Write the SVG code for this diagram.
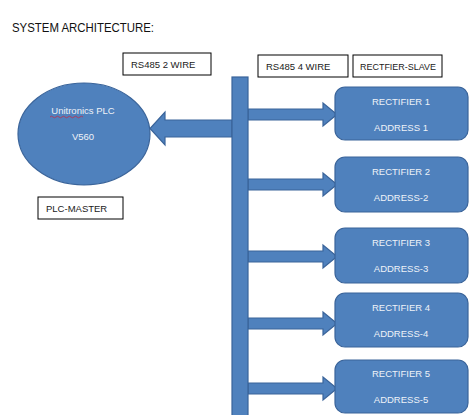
<svg xmlns="http://www.w3.org/2000/svg" width="474" height="415" viewBox="0 0 474 415">
<style>
.shape{fill:#4f81bd;stroke:#3a649a;stroke-width:1.2}
.lbl{fill:#fff;stroke:#000;stroke-width:1}
.t{font-family:"Liberation Sans",Arial,sans-serif;font-size:9.5px;fill:#1a1a1a}
.w{font-family:"Liberation Sans",Arial,sans-serif;font-size:9.5px;fill:#eef2f8;text-anchor:middle}
</style>
<rect width="474" height="415" fill="#fff"/>
<text x="12" y="32" font-family="'Liberation Sans',Arial,sans-serif" font-size="13.5" fill="#111" textLength="142" lengthAdjust="spacingAndGlyphs">SYSTEM ARCHITECTURE:</text>

<g id="label-rs485-2">
<rect class="lbl" x="123" y="53" width="88" height="22"/>
<text class="t" x="131" y="68">RS485 2 WIRE</text>
</g>
<g id="label-rs485-4">
<rect class="lbl" x="258" y="55" width="90" height="22"/>
<text class="t" x="266" y="70">RS485 4 WIRE</text>
</g>
<g id="label-slave">
<rect class="lbl" x="353" y="55" width="89" height="22"/>
<text class="t" x="360" y="70" textLength="76" lengthAdjust="spacingAndGlyphs">RECTFIER-SLAVE</text>
</g>
<g id="label-master">
<rect class="lbl" x="38" y="197" width="85" height="22"/>
<text class="t" x="46" y="212">PLC-MASTER</text>
</g>

<g id="plc">
<ellipse class="shape" cx="84" cy="134" rx="66" ry="51"/>
<text class="w" x="83" y="114">Unitronics PLC</text>
<path d="M50,117 q1.5,-1.5 3,0 t3,0 t3,0 t3,0 t3,0 t3,0 t3,0 t3,0 t3,0 t3,0 t3,0" fill="none" stroke="#c0304a" stroke-width="0.8"/>
<text class="w" x="83" y="140">V560</text>
</g>

<g id="connectors">
<path class="shape" d="M232,120 L165,120 L165,112 L150,128.5 L165,145 L165,137 L232,137 Z"/>
<path class="shape" d="M248,109 L323,109 L323,103 L337,114.5 L323,126 L323,120 L248,120 Z"/>
<path class="shape" d="M248,179 L323,179 L323,173 L337,184.5 L323,196 L323,190 L248,190 Z"/>
<path class="shape" d="M248,251 L323,251 L323,245 L337,256.5 L323,268 L323,262 L248,262 Z"/>
<path class="shape" d="M248,318 L323,318 L323,312 L337,323.5 L323,335 L323,329 L248,329 Z"/>
<path class="shape" d="M248,383 L323,383 L323,377 L337,388.5 L323,400 L323,394 L248,394 Z"/>
<rect class="shape" x="232" y="77" width="16" height="345"/>
</g>

<g id="rectifier1">
<rect class="shape" x="335" y="87" width="133" height="53" rx="10"/>
<text class="w" x="401" y="105">RECTIFIER 1</text>
<text class="w" x="401" y="131">ADDRESS 1</text>
</g>
<g id="rectifier2">
<rect class="shape" x="335" y="157" width="133" height="55" rx="10"/>
<text class="w" x="401" y="175">RECTIFIER 2</text>
<text class="w" x="401" y="201">ADDRESS-2</text>
</g>
<g id="rectifier3">
<rect class="shape" x="335" y="228" width="133" height="55" rx="10"/>
<text class="w" x="401" y="246">RECTIFIER 3</text>
<text class="w" x="401" y="272">ADDRESS-3</text>
</g>
<g id="rectifier4">
<rect class="shape" x="335" y="293" width="133" height="54" rx="10"/>
<text class="w" x="401" y="311">RECTIFIER 4</text>
<text class="w" x="401" y="337">ADDRESS-4</text>
</g>
<g id="rectifier5">
<rect class="shape" x="335" y="360" width="133" height="53" rx="10"/>
<text class="w" x="401" y="377">RECTIFIER 5</text>
<text class="w" x="401" y="403">ADDRESS-5</text>
</g>
</svg>
